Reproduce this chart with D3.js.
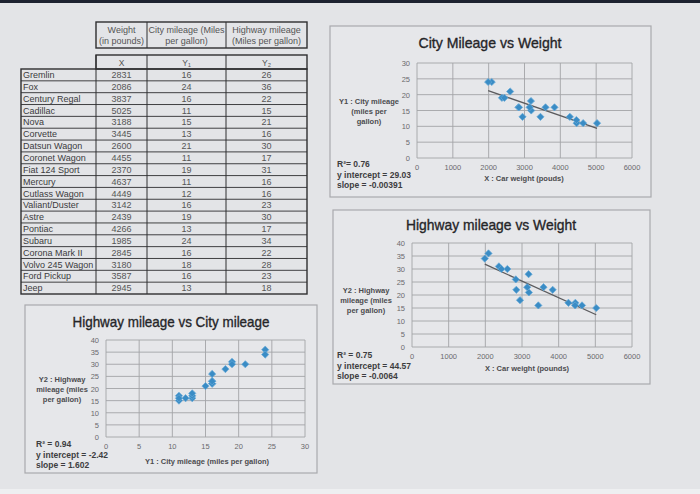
<!DOCTYPE html>
<html>
<head>
<meta charset="utf-8">
<script src="https://cdn.jsdelivr.net/npm/d3@7"></script>
<style>
  body { margin: 0; background: #e3e4e7; }
  svg { display: block; }
</style>
</head>
<body>
<svg id="page" width="700" height="494"></svg>
<script>
const cars = ["Gremlin", "Fox", "Century Regal", "Cadillac", "Nova", "Corvette", "Datsun Wagon",
  "Coronet Wagon", "Fiat 124 Sport", "Mercury", "Cutlass Wagon", "Valiant/Duster", "Astre",
  "Pontiac", "Subaru", "Corona Mark II", "Volvo 245 Wagon", "Ford Pickup", "Jeep"];
const weight = [2831, 2086, 3837, 5025, 3188, 3445, 2600, 4455, 2370, 4637, 4449, 3142, 2439, 4266, 1985, 2845, 3180, 3587, 2945];
const cityMpg = [16, 24, 16, 11, 15, 13, 21, 11, 19, 11, 12, 16, 19, 13, 24, 16, 18, 16, 13];
const highwayMpg = [26, 36, 22, 15, 21, 16, 30, 17, 31, 16, 16, 23, 30, 17, 34, 22, 28, 23, 18];

const headerTop = ["Weight", "City mileage (Miles", "Highway mileage"];
const headerBottom = ["(in pounds)", "per gallon)", "(Miles per gallon)"];
const varNames = ["X", "Y\u2081", "Y\u2082"];

const weightTicks = [0, 1000, 2000, 3000, 4000, 5000, 6000];
const cityTicks = [0, 5, 10, 15, 20, 25, 30];
const highwayTicks = [0, 5, 10, 15, 20, 25, 30, 35, 40];

const fit1 = { intercept: 29.03, slope: -0.00391, label: ["R\u00b2= 0.76", "y intercept = 29.03", "slope = -0.00391"] };
const fit2 = { intercept: 44.57, slope: -0.0064, label: ["R\u00b2 = 0.75", "y intercept = 44.57", "slope = -0.0064"] };
const fit3 = { intercept: -2.42, slope: 1.602, label: ["R\u00b2 = 0.94", "y intercept = -2.42", "slope = 1.602"] };

const FONT = "'Liberation Sans Narrow', 'Liberation Sans', sans-serif";
const INK = "#3b3b3d";
const BLUE = "#3a8cc5";

const svg = d3.select("#page");

// photo edges
svg.append("rect").attr("x", 0).attr("y", 0).attr("width", 700).attr("height", 494).attr("fill", "#e3e4e7");
svg.append("rect").attr("x", 0).attr("y", 0).attr("width", 700).attr("height", 3).attr("fill", "#1d2230");
svg.append("rect").attr("x", 0).attr("y", 489).attr("width", 700).attr("height", 5).attr("fill", "#eeeff1");

// ---------- table ----------
const colX = [21, 96, 147, 226, 307];
const rowTop = 69, rowBottom = 294;
const rowH = (rowBottom - rowTop) / cars.length;

const table = svg.append("g").attr("font-family", FONT).attr("fill", INK);

// header box
table.append("rect").attr("x", colX[1]).attr("y", 22).attr("width", colX[4] - colX[1]).attr("height", 26)
  .attr("fill", "none").attr("stroke", "#2e2e30").attr("stroke-width", 1.4);
[2, 3].forEach(i => table.append("line").attr("x1", colX[i]).attr("x2", colX[i]).attr("y1", 22).attr("y2", 48)
  .attr("stroke", "#2e2e30").attr("stroke-width", 1));
headerTop.forEach((t, i) => {
  const cx = (colX[i + 1] + colX[i + 2]) / 2;
  table.append("text").attr("x", cx).attr("y", 33).attr("text-anchor", "middle").attr("font-size", 9).attr("fill", "#555").text(t);
  table.append("text").attr("x", cx).attr("y", 44).attr("text-anchor", "middle").attr("font-size", 9).attr("fill", "#555").text(headerBottom[i]);
});

// X / Y1 / Y2 row
table.append("rect").attr("x", colX[1]).attr("y", 55).attr("width", colX[4] - colX[1]).attr("height", rowTop - 55)
  .attr("fill", "none").attr("stroke", "#2e2e30").attr("stroke-width", 1.4);
varNames.forEach((t, i) => {
  table.append("text").attr("x", (colX[i + 1] + colX[i + 2]) / 2).attr("y", 65.5)
    .attr("text-anchor", "middle").attr("font-size", 8.5).attr("fill", "#555").text(t);
});

// data rows
table.append("rect").attr("x", colX[0]).attr("y", rowTop).attr("width", colX[4] - colX[0]).attr("height", rowBottom - rowTop)
  .attr("fill", "none").attr("stroke", "#2e2e30").attr("stroke-width", 1.4);
[1, 2, 3].forEach(i => table.append("line").attr("x1", colX[i]).attr("x2", colX[i]).attr("y1", 55).attr("y2", rowBottom)
  .attr("stroke", "#2e2e30").attr("stroke-width", 1));
cars.forEach((c, i) => {
  const y = rowTop + i * rowH;
  if (i > 0) table.append("line").attr("x1", colX[0]).attr("x2", colX[4]).attr("y1", y).attr("y2", y)
    .attr("stroke", "#2e2e30").attr("stroke-width", 0.9);
  const ty = y + rowH / 2 + 3.2;
  table.append("text").attr("x", colX[0] + 2).attr("y", ty).attr("font-size", 9).text(c);
  [weight[i], cityMpg[i], highwayMpg[i]].forEach((v, j) => {
    table.append("text").attr("x", (colX[j + 1] + colX[j + 2]) / 2).attr("y", ty)
      .attr("text-anchor", "middle").attr("font-size", 9).attr("fill", "#555").text(v);
  });
});

// ---------- scatter charts ----------
function scatter(cfg) {
  const g = svg.append("g").attr("font-family", FONT);

  g.append("rect").attr("x", cfg.frame[0]).attr("y", cfg.frame[1])
    .attr("width", cfg.frame[2] - cfg.frame[0]).attr("height", cfg.frame[3] - cfg.frame[1])
    .attr("fill", "#e6e7ea").attr("stroke", "#a9aaad").attr("stroke-width", 1.2);

  const x = d3.scaleLinear().domain(d3.extent(cfg.xTicks)).range([cfg.plot[0], cfg.plot[2]]);
  const y = d3.scaleLinear().domain(d3.extent(cfg.yTicks)).range([cfg.plot[3], cfg.plot[1]]);

  // gridlines
  g.append("g").selectAll("line").data(cfg.xTicks).join("line")
    .attr("x1", d => x(d)).attr("x2", d => x(d)).attr("y1", y.range()[1]).attr("y2", y.range()[0])
    .attr("stroke", "#a3a4a7").attr("stroke-width", 0.9);
  g.append("g").selectAll("line").data(cfg.yTicks).join("line")
    .attr("x1", x.range()[0]).attr("x2", x.range()[1]).attr("y1", d => y(d)).attr("y2", d => y(d))
    .attr("stroke", "#a3a4a7").attr("stroke-width", 0.9);

  // tick labels
  g.append("g").selectAll("text").data(cfg.yTicks).join("text")
    .attr("x", x.range()[0] - 7).attr("y", d => y(d) + 3).attr("text-anchor", "end")
    .attr("font-size", 7.5).attr("fill", "#6a6a6d").text(d => d);
  g.append("g").selectAll("text").data(cfg.xTicks).join("text")
    .attr("x", d => x(d)).attr("y", y.range()[0] + cfg.xLabelGap).attr("text-anchor", "middle")
    .attr("font-size", 7.5).attr("fill", "#6a6a6d").text(d => d);

  // trend line
  if (cfg.showTrend) {
    const xs = d3.extent(cfg.xs);
    g.append("line")
      .attr("x1", x(xs[0])).attr("y1", y(cfg.fit.intercept + cfg.fit.slope * xs[0]))
      .attr("x2", x(xs[1])).attr("y2", y(cfg.fit.intercept + cfg.fit.slope * xs[1]))
      .attr("stroke", "#5b5b5e").attr("stroke-width", 1.3);
  }

  // points (excel style diamonds)
  g.append("g").selectAll("path").data(cfg.xs.map((v, i) => [v, cfg.ys[i]])).join("path")
    .attr("d", d3.symbol(d3.symbolSquare, 26))
    .attr("transform", d => `translate(${x(d[0])},${y(d[1])}) rotate(45)`)
    .attr("fill", BLUE).attr("stroke", "#67aad8").attr("stroke-width", 0.7);

  // titles
  g.append("text").attr("x", cfg.title[0]).attr("y", cfg.title[1]).attr("text-anchor", "middle")
    .attr("font-size", 15).attr("fill", "#252528")
    .attr("font-family", "'Liberation Sans', sans-serif")
    .attr("textLength", cfg.titleWidth).attr("lengthAdjust", "spacingAndGlyphs")
    .attr("stroke", "#252528").attr("stroke-width", 0.35)
    .text(cfg.titleText);

  g.append("text").attr("x", cfg.xTitle[0]).attr("y", cfg.xTitle[1]).attr("text-anchor", "middle")
    .attr("font-size", 7.5).attr("font-weight", "bold").attr("fill", "#4b4b4e").text(cfg.xTitleText);

  cfg.yTitleText.forEach((t, i) => {
    g.append("text").attr("x", cfg.yTitle[0]).attr("y", cfg.yTitle[1] + i * 10).attr("text-anchor", "middle")
      .attr("font-size", 7.5).attr("font-weight", "bold").attr("fill", "#4b4b4e").text(t);
  });

  cfg.fit.label.forEach((t, i) => {
    g.append("text").attr("x", cfg.stats[0]).attr("y", cfg.stats[1] + i * 10.5)
      .attr("font-size", 8.5).attr("font-weight", "bold").attr("fill", "#3d3d40").text(t);
  });
}

scatter({
  frame: [330, 26, 651, 197],
  plot: [417, 63, 632, 158],
  xTicks: weightTicks, yTicks: cityTicks, xLabelGap: 12,
  xs: weight, ys: cityMpg, fit: fit1, showTrend: true,
  title: [490, 48], titleWidth: 143, titleText: "City Mileage vs Weight",
  xTitle: [524, 181], xTitleText: "X : Car weight (pouds)",
  yTitle: [369, 104], yTitleText: ["Y1 : City mileage", "(miles per", "gallon)"],
  stats: [337, 167]
});

scatter({
  frame: [333, 210, 650, 384],
  plot: [412, 243, 632, 347],
  xTicks: weightTicks, yTicks: highwayTicks, xLabelGap: 12,
  xs: weight, ys: highwayMpg, fit: fit2, showTrend: true,
  title: [491, 230], titleWidth: 170, titleText: "Highway mileage vs Weight",
  xTitle: [527, 371], xTitleText: "X : Car weight (pounds)",
  yTitle: [366, 293], yTitleText: ["Y2 : Highway", "mileage (miles", "per gallon)"],
  stats: [337, 358]
});

scatter({
  frame: [25, 305, 317, 473],
  plot: [106, 340, 305, 437],
  xTicks: cityTicks, yTicks: highwayTicks, xLabelGap: 12,
  xs: cityMpg, ys: highwayMpg, fit: fit3, showTrend: false,
  title: [171, 327], titleWidth: 197, titleText: "Highway mileage vs City mileage",
  xTitle: [207, 464], xTitleText: "Y1 : City mileage (miles per gallon)",
  yTitle: [62, 382], yTitleText: ["Y2 : Highway", "mileage (miles", "per gallon)"],
  stats: [36, 447]
});
</script>
</body>
</html>
